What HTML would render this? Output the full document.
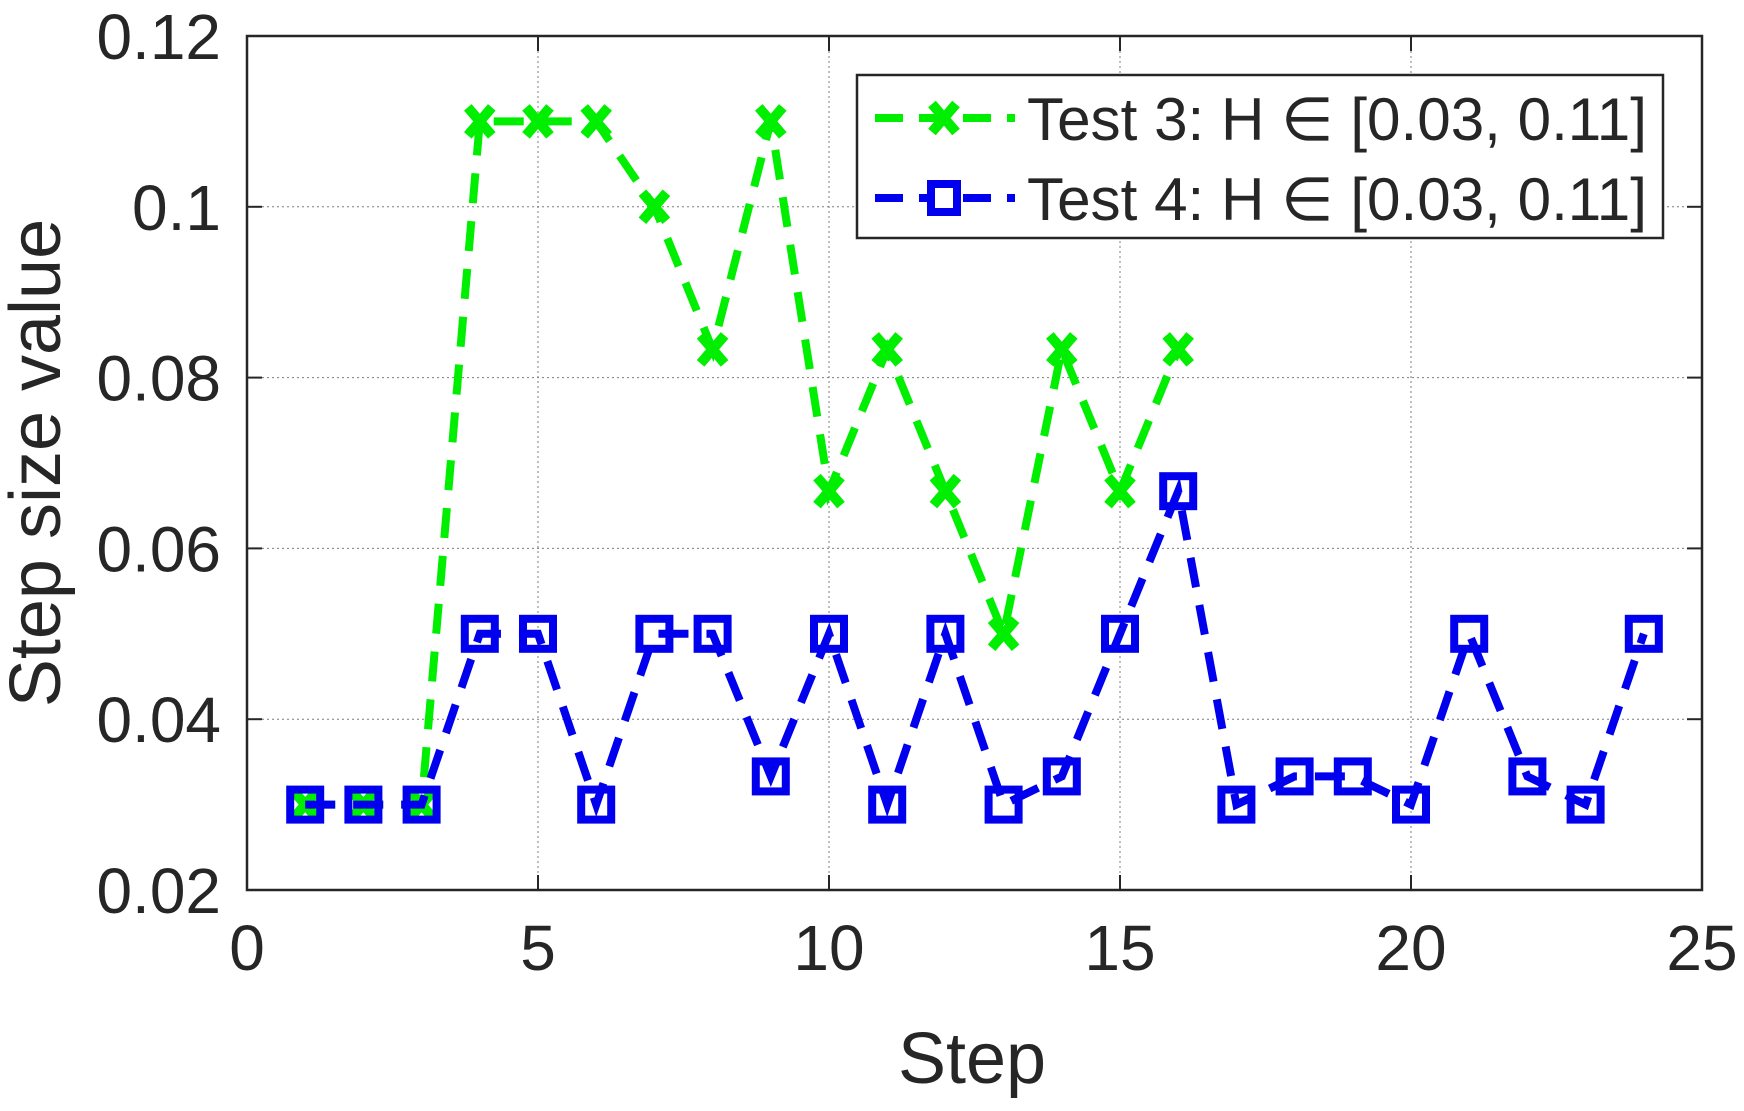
<!DOCTYPE html>
<html><head><meta charset="utf-8"><style>
html,body{margin:0;padding:0;background:#fff;}
svg text{font-family:"Liberation Sans",sans-serif;fill:#262626;}
</style></head><body>
<svg id="s" width="1744" height="1106" xmlns="http://www.w3.org/2000/svg">
<rect x="0" y="0" width="1744" height="1106" fill="#fff"/>
<g id="grid" stroke="#262626" stroke-width="1" stroke-dasharray="2,3" opacity="0.6"></g>
<g id="ticks" stroke="#262626" stroke-width="2"></g>
<g id="lab" font-size="64"></g>
<g id="ser"></g>
<rect x="247" y="36" width="1455" height="854" fill="none" stroke="#262626" stroke-width="2.5"/>
<text x="972" y="1083" font-size="72" text-anchor="middle">Step</text>
<text transform="translate(60,463) rotate(-90)" font-size="72" text-anchor="middle">Step size value</text>
<g>
<rect x="857" y="75" width="806" height="163" fill="#fff" stroke="#262626" stroke-width="2.5"/>
<line x1="875" y1="118" x2="1015" y2="118" stroke="#00ee00" stroke-width="8" stroke-dasharray="28,16"/>
<path d="M932,104 L956,132 M956,104 L932,132" stroke="#00ee00" stroke-width="10"/>
<line x1="875" y1="198" x2="1015" y2="198" stroke="#0000ee" stroke-width="8" stroke-dasharray="28,16"/>
<rect x="931" y="184" width="26" height="28" fill="#fff" stroke="#0000ee" stroke-width="8"/>
<text x="1027" y="140" font-size="60" textLength="620" lengthAdjust="spacingAndGlyphs">Test 3: H ∈ [0.03, 0.11]</text>
<text x="1027" y="220" font-size="60" textLength="620" lengthAdjust="spacingAndGlyphs">Test 4: H ∈ [0.03, 0.11]</text>
</g>
</svg>
<script>
var L=247,R=1702,T=36,B=890;
function X(v){return L+(R-L)*v/25;}
function Y(v){return B-(B-T)*(v-0.02)/0.1;}
var ns="http://www.w3.org/2000/svg";
function el(p,n,a,t){var e=document.createElementNS(ns,n);for(var k in a)e.setAttribute(k,a[k]);if(t!=null)e.textContent=t;document.getElementById(p).appendChild(e);return e;}
for(var i=1;i<5;i++){var x=X(i*5);el('grid','line',{x1:x,y1:T,x2:x,y2:B});}
for(var j=1;j<5;j++){var y=Y(0.02+j*0.02);el('grid','line',{x1:L,y1:y,x2:R,y2:y});}
for(var i=0;i<=5;i++){var x=X(i*5);el('ticks','line',{x1:x,y1:B,x2:x,y2:B-15});el('ticks','line',{x1:x,y1:T,x2:x,y2:T+15});
 el('lab','text',{x:x,y:B+80,'text-anchor':'middle'},String(i*5));}
var yl=['0.02','0.04','0.06','0.08','0.1','0.12'];
for(var j=0;j<=5;j++){var v=0.02+j*0.02,y=Y(v);el('ticks','line',{x1:L,y1:y,x2:L+15,y2:y});el('ticks','line',{x1:R,y1:y,x2:R-15,y2:y});
 el('lab','text',{x:L-26,y:y+23,'text-anchor':'end'},yl[j]);}
var g=[.03,.03,.03,.11,.11,.11,.1,.0833,.11,.0667,.0833,.0667,.05,.0833,.0667,.0833];
var b=[.03,.03,.03,.05,.05,.03,.05,.05,.0333,.05,.03,.05,.03,.0333,.05,.0667,.03,.0333,.0333,.03,.05,.0333,.03,.05];
function pts(a){return a.map(function(v,i){return X(i+1)+','+Y(v);}).join(' ');}
el('ser','polyline',{points:pts(g),fill:'none',stroke:'#00ee00','stroke-width':8,'stroke-dasharray':'30,18'});
g.forEach(function(v,i){var x=X(i+1),y=Y(v);el('ser','path',{d:'M'+(x-12)+','+(y-14)+' L'+(x+12)+','+(y+14)+' M'+(x+12)+','+(y-14)+' L'+(x-12)+','+(y+14),stroke:'#00ee00','stroke-width':10});});
el('ser','polyline',{points:pts(b),fill:'none',stroke:'#0000ee','stroke-width':8,'stroke-dasharray':'30,18'});
b.forEach(function(v,i){var x=X(i+1),y=Y(v);el('ser','rect',{x:x-15,y:y-15,width:30,height:30,fill:'none',stroke:'#0000ee','stroke-width':8});});
</script>
</body></html>
